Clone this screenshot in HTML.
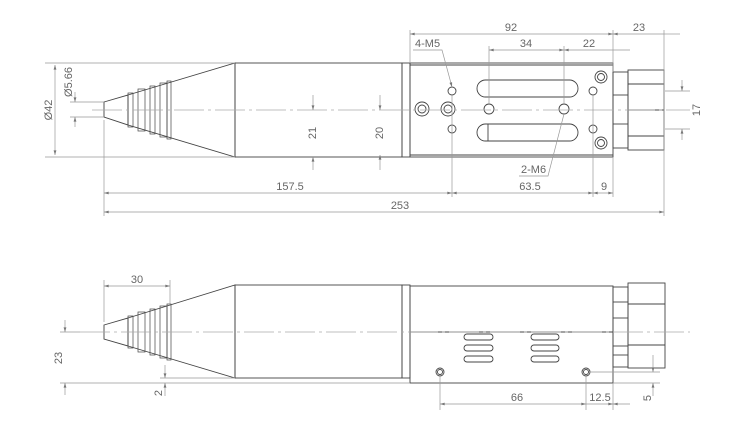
<!DOCTYPE html>
<html><head><meta charset="utf-8"><style>html,body{margin:0;padding:0;background:#fff}svg{display:block}text{font-family:"Liberation Sans",sans-serif;fill:#666;font-size:11px}</style></head><body>
<svg width="750" height="430" viewBox="0 0 750 430" xmlns="http://www.w3.org/2000/svg">
<defs><marker id="a" viewBox="0 0 10 6" refX="10" refY="3" markerWidth="8" markerHeight="4" orient="auto-start-reverse"><path d="M0,0L10,3L0,6z" fill="#777"/></marker></defs>
<g fill="none" stroke="#444" stroke-width="0.9">
<!-- TOP VIEW -->
<path d="M104,102 L128,95 L128,125 L104,117 Z"/>
<path d="M128,95 L235,63 L235,157 L128,125"/>
<g stroke-width="0.7">
<rect x="128" y="93" width="5" height="34"/><rect x="138" y="89" width="7" height="42"/><rect x="150" y="86" width="5" height="48"/><rect x="160" y="83" width="7" height="54"/><rect x="167" y="81" width="4" height="58"/>
</g>
<rect x="235" y="63" width="167" height="94"/>
<rect x="402" y="63" width="8" height="94"/>
<rect x="410" y="63" width="203" height="94"/>
<line x1="410" y1="65" x2="613" y2="65"/><line x1="410" y1="155" x2="613" y2="155"/>
<rect x="613" y="72" width="15" height="76"/>
<line x1="613" y1="95" x2="628" y2="95"/><line x1="613" y1="124" x2="628" y2="124"/>
<rect x="628" y="70" width="36" height="80"/>
<line x1="628" y1="84" x2="664" y2="84"/><line x1="628" y1="110" x2="664" y2="110"/><line x1="628" y1="136" x2="664" y2="136"/>
<circle cx="422" cy="109" r="7"/><circle cx="422" cy="109" r="4"/>
<circle cx="448" cy="109" r="7"/><circle cx="448" cy="109" r="4"/>
<circle cx="452" cy="91" r="4"/><circle cx="452" cy="129" r="4"/>
<circle cx="489" cy="109" r="5"/><circle cx="564" cy="109" r="5"/>
<circle cx="593" cy="91" r="4"/><circle cx="593" cy="129" r="4"/>
<circle cx="601" cy="77" r="6"/><circle cx="601" cy="77" r="3.5"/>
<circle cx="601" cy="143" r="6"/><circle cx="601" cy="143" r="3.5"/>
<rect x="477" y="80" width="101" height="17" rx="8.5"/>
<rect x="477" y="124" width="101" height="17" rx="8.5"/>
<line x1="488" y1="124" x2="488" y2="141"/>
<!-- BOTTOM VIEW -->
<path d="M104,325 L128,318 L128,346 L104,339 Z"/>
<path d="M128,318 L235,285 L235,378 L128,346"/>
<g stroke-width="0.7">
<rect x="128" y="316" width="5" height="32"/><rect x="138" y="312" width="7" height="40"/><rect x="150" y="309" width="5" height="46"/><rect x="160" y="306" width="7" height="52"/><rect x="167" y="304" width="4" height="56"/>
</g>
<rect x="235" y="285" width="167" height="93"/>
<rect x="402" y="285" width="8" height="93"/>
<rect x="410" y="286" width="203" height="97"/>
<line x1="410" y1="332" x2="613" y2="332"/>
<rect x="613" y="287" width="15" height="80"/>
<line x1="613" y1="302" x2="628" y2="302"/><line x1="613" y1="318" x2="628" y2="318"/><line x1="613" y1="346" x2="628" y2="346"/><line x1="613" y1="355" x2="628" y2="355"/>
<rect x="628" y="283" width="37" height="85"/>
<line x1="628" y1="304" x2="665" y2="304"/><line x1="628" y1="345" x2="665" y2="345"/>
<rect x="464" y="334" width="29" height="6" rx="3"/><rect x="464" y="345" width="29" height="6" rx="3"/><rect x="464" y="356" width="29" height="6" rx="3"/>
<rect x="531" y="334" width="28" height="6" rx="3"/><rect x="531" y="345" width="28" height="6" rx="3"/><rect x="531" y="356" width="28" height="6" rx="3"/>
<circle cx="440" cy="372" r="4"/><circle cx="440" cy="372" r="2.5"/>
<circle cx="586" cy="372" r="4"/><circle cx="586" cy="372" r="2.5"/>
</g>
<g stroke="#aaa" stroke-width="0.7" stroke-dasharray="30,4,3,4" fill="none">
<line x1="92" y1="110" x2="690" y2="110"/>
<line x1="80" y1="332" x2="690" y2="332"/>
</g>
<g stroke="#999" stroke-width="0.7" fill="none">
<line x1="45" y1="63" x2="235" y2="63"/><line x1="45" y1="157" x2="235" y2="157"/>
<line x1="55" y1="65" x2="55" y2="155" marker-start="url(#a)" marker-end="url(#a)"/>
<line x1="70" y1="102" x2="104" y2="102"/><line x1="70" y1="117" x2="104" y2="117"/>
<line x1="75" y1="92" x2="75" y2="102" marker-end="url(#a)"/><line x1="75" y1="127" x2="75" y2="117" marker-end="url(#a)"/>
<line x1="313" y1="95" x2="313" y2="110" marker-end="url(#a)"/><line x1="313" y1="170" x2="313" y2="157" marker-end="url(#a)"/>
<line x1="380" y1="95" x2="380" y2="110" marker-end="url(#a)"/><line x1="380" y1="170" x2="380" y2="155" marker-end="url(#a)"/>
<line x1="104" y1="120" x2="104" y2="216"/>
<line x1="410" y1="30" x2="410" y2="63"/><line x1="613" y1="30" x2="613" y2="72"/><line x1="664" y1="30" x2="664" y2="216"/>
<line x1="410" y1="34" x2="613" y2="34" marker-start="url(#a)" marker-end="url(#a)"/>
<line x1="613" y1="34" x2="664" y2="34" marker-start="url(#a)"/><line x1="664" y1="34" x2="680" y2="34"/>
<line x1="489" y1="46" x2="489" y2="104"/><line x1="564" y1="46" x2="564" y2="104"/>
<line x1="489" y1="50" x2="564" y2="50" marker-start="url(#a)" marker-end="url(#a)"/>
<line x1="564" y1="50" x2="630" y2="50" marker-start="url(#a)"/>
<line x1="452" y1="95" x2="452" y2="197"/><line x1="593" y1="95" x2="593" y2="197"/><line x1="613" y1="157" x2="613" y2="197"/>
<line x1="104" y1="193" x2="452" y2="193" marker-start="url(#a)" marker-end="url(#a)"/>
<line x1="452" y1="193" x2="593" y2="193" marker-start="url(#a)" marker-end="url(#a)"/>
<line x1="593" y1="193" x2="613" y2="193" marker-start="url(#a)" marker-end="url(#a)"/>
<line x1="104" y1="212" x2="664" y2="212" marker-start="url(#a)" marker-end="url(#a)"/>
<line x1="665" y1="91" x2="690" y2="91"/><line x1="665" y1="129" x2="690" y2="129"/>
<line x1="682" y1="80" x2="682" y2="91" marker-end="url(#a)"/><line x1="682" y1="140" x2="682" y2="129" marker-end="url(#a)"/>
<polyline points="413,50 442,50 452,87" marker-end="url(#a)"/>
<polyline points="519,176 548,176 564,114"/>
<line x1="104" y1="280" x2="104" y2="322"/><line x1="170" y1="280" x2="170" y2="305"/>
<line x1="104" y1="286" x2="170" y2="286" marker-start="url(#a)" marker-end="url(#a)"/>
<line x1="60" y1="383" x2="410" y2="383"/><line x1="60" y1="332" x2="80" y2="332"/>
<line x1="65" y1="320" x2="65" y2="332" marker-end="url(#a)"/><line x1="65" y1="395" x2="65" y2="383" marker-end="url(#a)"/>
<line x1="165" y1="365" x2="165" y2="378" marker-end="url(#a)"/><line x1="165" y1="396" x2="165" y2="383" marker-end="url(#a)"/>
<line x1="160" y1="378" x2="235" y2="378"/>
<line x1="440" y1="376" x2="440" y2="410"/><line x1="586" y1="376" x2="586" y2="410"/><line x1="613" y1="383" x2="613" y2="410"/>
<line x1="440" y1="404" x2="586" y2="404" marker-start="url(#a)" marker-end="url(#a)"/>
<line x1="586" y1="404" x2="613" y2="404" marker-end="url(#a)"/><line x1="613" y1="404" x2="630" y2="404" marker-start="url(#a)"/>
<line x1="590" y1="372" x2="660" y2="372"/><line x1="613" y1="383" x2="660" y2="383"/>
<line x1="653" y1="355" x2="653" y2="372" marker-end="url(#a)"/><line x1="653" y1="396" x2="653" y2="383" marker-end="url(#a)"/>
</g>
<g>
<text x="52" y="110" font-size="9" transform="rotate(-90 52 110)" text-anchor="middle">Ø42</text>
<text x="72" y="82" font-size="10" transform="rotate(-90 72 82)" text-anchor="middle">Ø5.66</text>
<text x="316" y="133" transform="rotate(-90 316 133)" text-anchor="middle">21</text>
<text x="383" y="133" transform="rotate(-90 383 133)" text-anchor="middle">20</text>
<text x="511" y="31" text-anchor="middle">92</text>
<text x="639" y="31" text-anchor="middle">23</text>
<text x="526" y="47" text-anchor="middle">34</text>
<text x="589" y="47" text-anchor="middle">22</text>
<text x="415" y="47">4-M5</text>
<text x="521" y="173">2-M6</text>
<text x="700" y="110" transform="rotate(-90 700 110)" text-anchor="middle">17</text>
<text x="290" y="190" text-anchor="middle">157.5</text>
<text x="530" y="190" text-anchor="middle">63.5</text>
<text x="604" y="190" text-anchor="middle">9</text>
<text x="400" y="209" text-anchor="middle">253</text>
<text x="137" y="283" text-anchor="middle">30</text>
<text x="62" y="358" transform="rotate(-90 62 358)" text-anchor="middle">23</text>
<text x="162" y="393" transform="rotate(-90 162 393)" text-anchor="middle">2</text>
<text x="517" y="401" text-anchor="middle">66</text>
<text x="600" y="401" text-anchor="middle">12.5</text>
<text x="651" y="398" transform="rotate(-90 651 398)" text-anchor="middle">5</text>
</g>
</svg>
</body></html>
